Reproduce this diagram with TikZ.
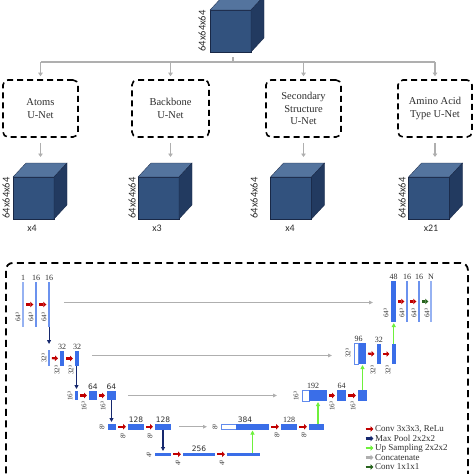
\documentclass[tikz,border=0pt]{standalone}
\usepackage{fontspec}
\setmainfont{Liberation Serif}
\newfontfamily\calfont{Carlito}
\newfontfamily\verfont{DejaVu Sans}
\usetikzlibrary{arrows.meta}
\definecolor{cubefrontc}{RGB}{50,82,126}
\definecolor{cubetopc}{RGB}{84,116,158}
\definecolor{cubesidec}{RGB}{34,58,96}
\definecolor{cubeedge}{RGB}{25,40,70}
\definecolor{ublue}{RGB}{58,110,232}
\definecolor{ulight}{RGB}{150,178,242}
\definecolor{convred}{RGB}{192,0,0}
\definecolor{poolblue}{RGB}{22,40,110}
\definecolor{upgreen}{RGB}{110,240,60}
\definecolor{catgray}{RGB}{175,175,175}
\definecolor{onegreen}{RGB}{40,100,30}
\definecolor{txt}{RGB}{45,45,45}
\tikzset{
  dbox/.style={draw=black, dash pattern=on 6pt off 4pt, line width=1.6pt, rounded corners=5pt,
    minimum width=75pt, minimum height=57pt, align=center, text=txt,
    font=\fontsize{10.5}{12.5}\selectfont, inner sep=1pt},
  cubef/.style={fill=cubefrontc, draw=cubeedge, line width=0.3pt, minimum width=41pt,
    minimum height=42pt, inner sep=0pt, outer sep=0pt},
  dimlab/.style={rotate=90, font=\calfont\fontsize{10.5}{12}\selectfont, inner sep=0pt, text=txt},
  multlab/.style={font=\calfont\fontsize{10}{12}\selectfont, inner sep=0pt, text=txt},
  feedline/.style={draw=catgray, line width=1.2pt},
  feed/.style={draw=catgray, line width=1.2pt, -{Triangle[length=3.5pt,width=4.5pt]}},
  bar/.style={inner sep=0pt, outer sep=0pt, draw=none},
  wbar/.style={inner sep=0pt, outer sep=0pt, draw=ublue!80, fill=white, line width=0.5pt},
  conv/.style={draw=convred, line width=2.2pt, -{Triangle[length=3pt,width=5.5pt]},
    shorten <=2pt, shorten >=2pt},
  onec/.style={conv, draw=onegreen},
  pool/.style={draw=poolblue, line width=1.1pt, -{Triangle[length=4pt,width=4pt]}, shorten >=2pt},
  upar/.style={draw=upgreen, line width=1.2pt, -{Triangle[length=4pt,width=4pt]}, shorten >=1pt},
  skip/.style={draw=catgray, line width=1pt, -{Triangle[length=4pt,width=3.5pt]}},
  numlab/.style={font=\fontsize{8}{9}\selectfont, inner sep=0pt, text=txt, anchor=south},
  numsans/.style={numlab, font=\verfont\fontsize{7.5}{9}\selectfont},
  dimsmall/.style={rotate=90, font=\fontsize{7}{8}\selectfont, inner sep=0pt, text=txt},
  legtext/.style={font=\fontsize{9}{10}\selectfont, inner sep=0pt, anchor=west, text=txt},
  legarrow/.style={line width=2.2pt, -{Triangle[length=3pt,width=5.5pt]}},
  bigframe/.style={draw=black, dash pattern=on 7pt off 4.5pt, line width=1.8pt, rounded corners=7pt,
    minimum width=462pt, minimum height=240pt, inner sep=0pt, anchor=north west}
}
\newcommand{\mkbar}[6][ublue]{\node[bar, fill=#1, minimum width={(#4-#3)*1pt},
  minimum height={(#6-#5)*1pt}] (#2) at ({(#3+#4)/2},{(#5+#6)/2}) {};}
\newcommand{\mkwbar}[5]{\node[wbar, minimum width={(#3-#2)*1pt},
  minimum height={(#5-#4)*1pt}] (#1) at ({(#2+#3)/2},{(#4+#5)/2}) {};}
\newcommand{\mkcube}[3]{%
  \node[cubef] (#1) at (#2,#3) {};
  \filldraw[fill=cubetopc, draw=cubeedge, line width=0.3pt] (#1.north west) -- ++(13,-14) -- ++(41,0) -- (#1.north east) -- cycle;
  \filldraw[fill=cubesidec, draw=cubeedge, line width=0.3pt] (#1.north east) -- ++(13,-14) -- ++(0,42) -- (#1.south east) -- cycle;
  \coordinate (#1t) at ([xshift=6.5pt,yshift=14pt]#1.north);}
\newcommand{\dl}[4]{\node[dimsmall] (#1) at (#2,#3) {#4};}
\begin{document}
\begin{tikzpicture}[x=1pt,y=-1pt]
\useasboundingbox (0,0) rectangle (474,474);
% ---------- top part ----------
\mkcube{tc}{230.5}{31}
\node[dimlab] (tcl) at (202,31) {64x64x64};
\coordinate (hub) at (233,62);
\node[dbox] (bx1) at (40.5,108.5) {Atoms\\U-Net};
\node[dbox, minimum width=77pt] (bx2) at (170.5,108.5) {Backbone\\U-Net};
\node[dbox] (bx3) at (303.5,108.5) {Secondary\\Structure\\U-Net};
\node[dbox, minimum width=74pt] (bx4) at (435,108.5) {Amino Acid\\Type U-Net};
\draw[feedline] ([yshift=-5pt]tc.south -| hub) -- (hub);
\draw[feedline] (bx1.north |- hub) -- (bx4.north |- hub);
\foreach \b in {bx1,bx2,bx3,bx4}{
  \draw[feed] (\b.north |- hub) -- ([yshift=3pt]\b.north);
}
\mkcube{c1}{33.5}{198}
\mkcube{c2}{158.5}{198}
\mkcube{c3}{291}{198}
\mkcube{c4}{429}{198}
\node[dimlab] (cl1) at (6,198) {64x64x64};
\node[dimlab] (cl2) at (132,198) {64x64x64};
\node[dimlab] (cl3) at (254,198) {64x64x64};
\node[dimlab] (cl4) at (402,198) {64x64x64};
\node[multlab] (m1) at (32,228) {x4};
\node[multlab] (m2) at (157,228) {x3};
\node[multlab] (m3) at (290,228) {x4};
\node[multlab] (m4) at (431,228) {x21};
\draw[feed, shorten <=5pt, shorten >=6pt] (bx1.south) -- (bx1.south |- c1t);
\draw[feed, shorten <=5pt, shorten >=6pt] (bx2.south) -- (bx2.south |- c2t);
\draw[feed, shorten <=5pt, shorten >=6pt] (bx3.south) -- (bx3.south |- c3t);
\draw[feed, shorten <=5pt, shorten >=6pt] (bx4.south) -- (bx4.south |- c4t);
% ---------- U-Net frame ----------
\node[bigframe] (frame) at (5,262) {};
% level 1
\mkbar[ulight]{p1}{22.3}{23.8}{282}{327}
\mkbar[ublue!75]{p2}{35.3}{36.8}{282}{327}
\mkbar[ublue!75]{p3}{48.3}{49.8}{282}{327}
\mkbar{q1}{391}{396}{281}{322}
\mkbar[ublue!75]{q2}{406.3}{407.8}{281}{322}
\mkbar[ublue!75]{q3}{418.3}{419.8}{281}{322}
\mkbar[ulight]{q4}{430.3}{431.8}{281}{322}
% level 2
\mkbar[ublue!75]{r1}{48.3}{49.8}{350}{366}
\mkbar{r2}{60}{64}{351}{366}
\mkbar{r3}{75}{79}{351}{366}
\mkwbar{s0}{354}{358.5}{343}{364}
\mkbar{s1}{358.5}{366}{343}{364}
\mkbar{s2}{376.5}{381}{344}{364}
\mkbar{s3}{391.5}{396}{344}{364}
% level 3
\mkbar{t1}{75}{78}{391}{400}
\mkbar{t2}{89}{97}{391}{400}
\mkbar{t3}{107}{116}{391}{400}
\mkwbar{v0}{302}{309}{390}{401}
\mkbar{v1}{309}{327}{390}{401}
\mkbar{v2}{337}{346}{390}{401}
\mkbar{v3}{358}{367}{390}{401}
% level 4
\mkbar{w1}{108}{116}{424}{429.5}
\mkbar{w2}{128}{144}{424}{429.5}
\mkbar{w3}{155}{171}{424}{429.5}
\mkwbar{x0}{221}{236}{424}{429.5}
\mkbar{x1}{236}{269}{424}{429.5}
\mkbar{x2}{281}{297}{424}{429.5}
\mkbar{x3}{309}{324}{424}{429.5}
% level 5
\mkbar{z1}{155}{171}{453}{455.5}
\mkbar{z2}{183}{215}{453}{455.5}
\mkbar{z3}{227}{260}{453}{455.5}
% conv arrows
\draw[conv] (p1.east) -- (p2.west);
\draw[conv] (p2.east) -- (p3.west);
\draw[conv] (q1.east) -- (q2.west);
\draw[conv] (q2.east) -- (q3.west);
\draw[onec] (q3.east) -- (q4.west);
\draw[conv] (r1.east) -- (r2.west);
\draw[conv] (r2.east) -- (r3.west);
\draw[conv] (s1.east) -- (s2.west);
\draw[conv] (s2.east) -- (s3.west);
\draw[conv] (t1.east) -- (t2.west);
\draw[conv] (t2.east) -- (t3.west);
\draw[conv] (v1.east) -- (v2.west);
\draw[conv] (v2.east) -- (v3.west);
\draw[conv] (w1.east) -- (w2.west);
\draw[conv] (w2.east) -- (w3.west);
\draw[conv] (x1.east) -- (x2.west);
\draw[conv] (x2.east) -- (x3.west);
\draw[conv] (z1.east) -- (z2.west);
\draw[conv] (z2.east) -- (z3.west);
% max pool arrows
\draw[pool, shorten >=6pt] (p3.south) -- (p3.south |- r1.north);
\draw[pool] (r3.south -| t1.north) -- (t1.north);
\draw[pool] (t3.south) -- (t3.south |- w1.north);
\draw[pool] (w3.south) -- (w3.south |- z1.north);
% up sampling arrows
\draw[upar] (z3.north -| x1.south) -- (x1.south);
\draw[upar] (x3.north -| v1.south) -- (v1.south);
\draw[upar] (v3.north) -- (v3.north |- s1.south);
\draw[upar] (s3.north) -- (s3.north |- q1.south);
% concatenate skip lines
\draw[skip, shorten <=14pt, shorten >=18pt] ([yshift=2pt]p3.east) -- ([yshift=2pt]p3.east -| q1.west);
\draw[skip, shorten <=13pt, shorten >=22pt] ([yshift=3pt]r3.east) -- ([yshift=3pt]r3.east -| s0.west);
\draw[skip, shorten <=12pt, shorten >=25pt] (t3.east) -- (t3.east -| v0.west);
\draw[skip, shorten <=8pt, shorten >=14pt] (w3.east) -- (x0.west);
% channel numbers
\node[numlab] (np1) at ([yshift=1.5pt]p1.north) {1};
\node[numlab] (np2) at ([yshift=1.5pt]p2.north) {16};
\node[numlab] (np3) at ([yshift=1.5pt]p3.north) {16};
\node[numlab] (nq1) at ([yshift=1.5pt]q1.north) {48};
\node[numlab] (nq2) at ([yshift=1.5pt]q2.north) {16};
\node[numlab] (nq3) at ([yshift=1.5pt]q3.north) {16};
\node[numlab] (nq4) at ([yshift=1.5pt]q4.north) {N};
\node[numlab] (nr2) at ([yshift=1.5pt]r2.north) {32};
\node[numlab] (nr3) at ([yshift=1.5pt]r3.north) {32};
\node[numlab] (ns1) at ([yshift=1.5pt]s0.north east) {96};
\node[numlab] (ns2) at ([yshift=1.5pt]s2.north) {32};
\node[numsans] (nt2) at ([yshift=1.5pt]t2.north) {64};
\node[numsans] (nt3) at ([yshift=1.5pt]t3.north) {64};
\node[numlab] (nv1) at ([xshift=4pt,yshift=1.5pt]v0.north east) {192};
\node[numlab] (nv2) at ([yshift=1.5pt]v2.north) {64};
\node[numsans] (nw2) at ([yshift=1.5pt]w2.north) {128};
\node[numsans] (nw3) at ([yshift=1.5pt]w3.north) {128};
\node[numsans] (nx1) at ([xshift=9pt,yshift=1.5pt]x0.north east) {384};
\node[numlab] (nx2) at ([yshift=1.5pt]x2.north) {128};
\node[numsans] (nz2) at ([yshift=1.5pt]z2.north) {256};
% spatial sizes
\dl{d11}{18}{317}{64³}
\dl{d12}{31}{317}{64³}
\dl{d13}{44}{317}{64³}
\dl{d14}{386}{313}{64³}
\dl{d15}{402}{313}{64³}
\dl{d16}{414}{313}{64³}
\dl{d17}{427}{313}{64³}
\dl{d21}{44}{358}{32³}
\dl{d22}{57}{370}{32³}
\dl{d23}{71}{370}{32³}
\dl{d24}{348}{353}{32³}
\dl{d25}{373}{370}{32³}
\dl{d26}{388}{370}{32³}
\dl{d31}{70}{396}{16³}
\dl{d32}{84}{406}{16³}
\dl{d33}{103}{406}{16³}
\dl{d34}{296}{396}{16³}
\dl{d35}{332}{406}{16³}
\dl{d36}{353}{406}{16³}
\dl{d41}{102}{427}{8³}
\dl{d42}{123}{436}{8³}
\dl{d43}{150}{436}{8³}
\dl{d44}{215}{427}{8³}
\dl{d45}{277}{435}{8³}
\dl{d46}{304}{435}{8³}
\dl{d51}{149}{455}{4³}
\dl{d52}{178}{463}{4³}
\dl{d53}{222}{463}{4³}
% legend
\node[legtext] (lg1) at (375,429) {Conv 3x3x3, ReLu};
\node[legtext] (lg2) at (375,438.5) {Max Pool 2x2x2};
\node[legtext] (lg3) at (375,448) {Up Sampling 2x2x2};
\node[legtext] (lg4) at (375,457.5) {Concatenate};
\node[legtext] (lg5) at (375,467) {Conv 1x1x1};
\draw[legarrow, draw=convred] ([xshift=-9.5pt]lg1.west) -- ([xshift=-1.5pt]lg1.west);
\draw[legarrow, draw=poolblue] ([xshift=-9.5pt]lg2.west) -- ([xshift=-1.5pt]lg2.west);
\draw[legarrow, draw=upgreen] ([xshift=-9.5pt]lg3.west) -- ([xshift=-1.5pt]lg3.west);
\draw[legarrow, draw=catgray] ([xshift=-9.5pt]lg4.west) -- ([xshift=-1.5pt]lg4.west);
\draw[legarrow, draw=onegreen] ([xshift=-9.5pt]lg5.west) -- ([xshift=-1.5pt]lg5.west);
\end{tikzpicture}
\end{document}
